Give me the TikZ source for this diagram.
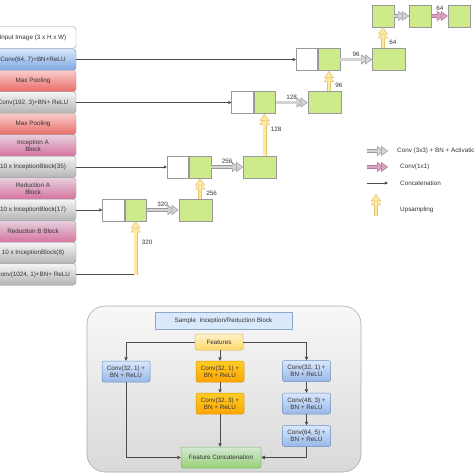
\documentclass[tikz,border=0pt]{standalone}
\usepackage{fontspec}
\setmainfont{Liberation Sans}
\usetikzlibrary{arrows.meta,positioning,calc,shadings}
\definecolor{blueTop}{HTML}{DAE8FC}
\definecolor{blueBot}{HTML}{7EA6E0}
\definecolor{blueEdge}{HTML}{6C8EBF}
\definecolor{redTop}{HTML}{F8CECC}
\definecolor{redBot}{HTML}{EA6B66}
\definecolor{grayTop}{HTML}{F5F5F5}
\definecolor{grayBot}{HTML}{B3B3B3}
\definecolor{pinkTop}{HTML}{E6D0DE}
\definecolor{pinkBot}{HTML}{D5739D}
\definecolor{orTop}{HTML}{FFCD28}
\definecolor{orBot}{HTML}{FFA500}
\definecolor{orEdge}{HTML}{D79B00}
\definecolor{featTop}{HTML}{FFF2CC}
\definecolor{featBot}{HTML}{FFD966}
\definecolor{featEdge}{HTML}{D6B656}
\definecolor{fcTop}{HTML}{D5E8D4}
\definecolor{fcBot}{HTML}{97D077}
\definecolor{fcEdge}{HTML}{82B366}
\definecolor{cellGreen}{HTML}{CDEB8B}
\definecolor{convGray}{HTML}{D3D3D3}
\definecolor{convEdge}{HTML}{9A9A9A}
\definecolor{pinkArr}{HTML}{D9A3C2}
\definecolor{pinkEdge}{HTML}{B5739D}
\definecolor{upYel}{HTML}{FFE9A6}
\definecolor{upEdge}{HTML}{E3C36A}
\definecolor{titleBg}{HTML}{DAE8FC}
\definecolor{titleEdge}{HTML}{8EA9C8}
\tikzset{
  tiny/.style={font=\fontsize{6.3}{7}\selectfont, text=black!80},
  layer/.style={tiny, draw=gray!75, rounded corners=3pt, minimum width=86pt,
    minimum height=21.5pt, inner sep=0pt, align=center},
  plainL/.style={fill=white},
  blueL/.style={top color=blueTop, bottom color=blueBot, draw=blueEdge},
  redL/.style={top color=redTop, bottom color=redBot},
  grayL/.style={top color=grayTop, bottom color=grayBot},
  pinkL/.style={top color=pinkTop, bottom color=pinkBot},
  cellW/.style={draw=gray!80, fill=white, minimum width=21.5pt, minimum height=22pt,
    inner sep=0pt, line width=0.6pt},
  cellG/.style={cellW, fill=cellGreen},
  outG/.style={cellG, minimum width=33pt},
  concat/.style={-{Triangle[length=3.2pt,width=3.2pt]}, line width=0.6pt, black!70},
  blockarr/.style 2 args={line width=2.6pt, draw=#1,
    preaction={draw=#2, line width=3.8pt, shorten >=4pt},
    -{Triangle[length=7pt,width=10pt,line width=0.5pt,color=#2,fill=#1]}},
  convarr/.style={blockarr={convGray}{convEdge}},
  pinkarr/.style={blockarr={pinkArr}{pinkEdge}},
  uparr/.style={blockarr={upYel}{upEdge}},
  num/.style={tiny, inner sep=1pt},
  legtxt/.style={tiny, anchor=west, inner sep=0pt},
  panel/.style={draw=gray!65, rounded corners=18pt, top color=gray!6, bottom color=gray!30,
    minimum width=274pt, minimum height=166pt, line width=0.6pt},
  box/.style={tiny, rounded corners=2pt, minimum width=48pt, minimum height=21pt,
    inner sep=0pt, align=center, line width=0.5pt},
  bluebox/.style={box, top color=blueTop, bottom color=blueBot!80, draw=blueEdge},
  orbox/.style={box, top color=orTop, bottom color=orBot, draw=orEdge},
  flow/.style={-{Triangle[length=3.5pt,width=3.5pt]}, line width=0.6pt, black!70}
}
\begin{document}
\begin{tikzpicture}[x=1pt,y=-1pt]
  \useasboundingbox (0,0) rectangle (474,474);
  % encoder stack
  \foreach \n/\y/\s/\t in {inp/37.5/plainL/{Input Image (3 x H x W)},
      conv64/59.5/blueL/{Conv(64, 7)+BN+ReLU}, pool1/81/redL/{Max Pooling},
      conv192/102.5/grayL/{Conv(192, 3)+BN+ ReLU}, pool2/124/redL/{Max Pooling},
      incA/145.5/pinkL/{Inception A\\Block}, ib35/167/grayL/{10 x InceptionBlock(35)},
      redA/188.5/pinkL/{Reduction A\\Block}, ib17/210/grayL/{10 x InceptionBlock(17)},
      redB/231.5/pinkL/{Reduction B Block}, ib8/253/grayL/{10 x InceptionBlock(8)},
      conv1024/274.5/grayL/{Conv(1024, 1)+BN+ ReLU}}{
    \node[layer,\s] (\n) at (33,\y) {\t};
  }
  % decoder levels
  \foreach \i/\x/\y/\src/\c in {1/113.5/210/ib17/320, 2/178/167/ib35/256,
      3/242.5/102.5/conv192/128, 4/307/59.5/conv64/96}{
    \node[cellW] (w\i) at (\x,\y) {};
    \node[cellG, right=0pt of w\i] (g\i) {};
    \node[outG, right=32pt of g\i] (o\i) {};
    \draw[concat] (\src.east) -- (w\i.west);
    \draw[convarr] (g\i.east) -- node[num, above=1pt] {\c} (o\i.west);
  }
  \node[cellG, minimum width=22pt] (a5) at (383,16) {};
  \node[cellG, minimum width=22pt, right=15pt of a5] (b5) {};
  \node[cellG, minimum width=22pt, right=16pt of b5] (c5) {};
  \draw[convarr] (a5.east) -- (b5.west);
  \draw[pinkarr] (b5.east) -- node[num, above=3pt] {64} (c5.west);
  % upsampling
  \coordinate (turn) at (g1 |- conv1024);
  \draw[concat, -] (conv1024.east) -- (turn);
  \draw[uparr] (turn) -- node[num, right=4pt, pos=0.6] {320} (g1.south);
  \foreach \i/\j/\c/\p in {1/2/256/0.25, 2/3/128/0.63, 3/4/96/0.27}{
    \draw[uparr] (o\i.north -| g\j.south) -- node[num, right=4pt, pos=\p] {\c} (g\j.south);
  }
  \draw[uparr] (o4.north -| a5.south) -- node[num, right=4pt, pos=0.27] {64} (a5.south);
  % legend
  \node[legtxt] (lt1) at (397,151) {Conv (3x3) + BN + Activation};
  \node[legtxt] (lt2) at (400,167) {Conv(1x1)};
  \node[legtxt] (lt3) at (400,183) {Concatenation};
  \node[legtxt] (lt4) at (400,210) {Upsampling};
  \foreach \k/\y in {1/151,2/167,3/183}{
    \coordinate (la\k) at (367,\y);
    \coordinate (lb\k) at (388,\y);
  }
  \coordinate (la4) at (376,216);
  \coordinate (lb4) at (376,194);
  \draw[convarr] (la1) -- (lb1);
  \draw[pinkarr] (la2) -- (lb2);
  \draw[concat] (la3) -- (lb3);
  \draw[uparr] (la4) -- (lb4);
  % sample block
  \node[panel] (panel) at (224,389) {};
  \node[tiny, draw=titleEdge, fill=titleBg, minimum width=137pt, minimum height=17pt,
    inner sep=0pt] (title) at (223.5,320.5) {Sample\ \ Inception/Reduction Block};
  \node[box, top color=featTop, bottom color=featBot, draw=featEdge, minimum height=16pt]
    (feat) at (219,342) {Features};
  \node[bluebox] (l1) at (126,371.5) {Conv(32, 1) +\\BN + ReLU};
  \node[orbox] (m1) at (220,371.5) {Conv(32, 1) +\\BN + ReLU};
  \node[orbox] (m2) at (220,403.5) {Conv(32, 3) +\\BN + ReLU};
  \node[bluebox] (r1) at (306.5,371) {Conv(32, 1) +\\BN + ReLU};
  \node[bluebox] (r2) at (306.5,403.5) {Conv(48, 3) +\\BN + ReLU};
  \node[bluebox] (r3) at (306.5,436) {Conv(64, 5) +\\BN + ReLU};
  \node[box, top color=fcTop, bottom color=fcBot, draw=fcEdge, minimum width=80pt]
    (fc) at (221,457.5) {Feature Concatenation};
  \draw[flow] (feat.west) -| (l1.north);
  \draw[flow] (feat.east) -| (r1.north);
  \draw[flow] (feat.south -| m1.north) -- (m1.north);
  \draw[flow] (m1) -- (m2);
  \draw[flow] (m2.south) -- (m2.south |- fc.north);
  \draw[flow] (r1) -- (r2);
  \draw[flow] (r2) -- (r3);
  \draw[flow] (l1.south) |- (fc.west);
  \draw[flow] (r3.south) |- (fc.east);
\end{tikzpicture}
\end{document}
